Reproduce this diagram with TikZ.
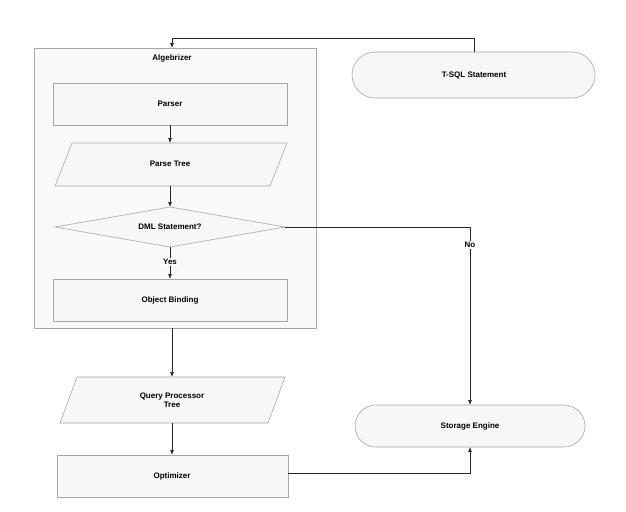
\documentclass[tikz,border=0pt]{standalone}
\usepackage{fontspec}
\setmainfont{Liberation Sans}
\usetikzlibrary{arrows.meta,shapes.geometric}
\begin{document}
\begin{tikzpicture}[x=1pt,y=-1pt,
 box/.style={draw=gray!70,fill=gray!6,line width=0.6pt},
 lbl/.style={font=\bfseries\fontsize{8}{9.5}\selectfont,align=center},
 arr/.style={-{Latex[length=5pt,width=4pt]},line width=0.7pt,black!85}]
\path[use as bounding box] (0,0) rectangle (626,511);
\fill[white] (0,0) rectangle (626,511);
\draw[box,fill=gray!5] (34,48) rectangle (316,328);
\node[lbl] (alg) at (172,58) {Algebrizer};
\coordinate (algtop) at (172,48);
\coordinate (algbot) at (172,328);
\draw[box] (53,83) rectangle (287,125);
\node[lbl] (parser) at (170,104) {Parser};
\coordinate (parserbot) at (170,125);
\draw[box] (72,143) -- (287,143) -- (270,186) -- (55,186) -- cycle;
\node[lbl] (ptree) at (170,164) {Parse Tree};
\coordinate (ptreetop) at (170,143);
\coordinate (ptreebot) at (170,186);
\draw[box] (55,227) -- (170,207) -- (285,227) -- (170,247) -- cycle;
\node[lbl] (dml) at (170,227) {DML Statement?};
\coordinate (dmltop) at (170,207);
\coordinate (dmlbot) at (170,247);
\coordinate (dmlright) at (285,227);
\node[lbl,fill=white,inner sep=1pt] (yes) at (170,262) {Yes};
\draw[box] (53,279) rectangle (287,321);
\node[lbl] (ob) at (170,300) {Object Binding};
\coordinate (obtop) at (170,279);
\draw[box] (77,377) -- (285,377) -- (268,423) -- (60,423) -- cycle;
\node[lbl] (qpt) at (172,400) {Query Processor\\Tree};
\coordinate (qpttop) at (172,377);
\coordinate (qptbot) at (172,423);
\draw[box] (57,455) rectangle (288,497);
\node[lbl] (opt) at (172,476) {Optimizer};
\coordinate (opttop) at (172,455);
\coordinate (optright) at (288,473);
\draw[box,rounded corners=23pt] (352,52) rectangle (595,98);
\node[lbl] (tsql) at (474,75) {T-SQL Statement};
\coordinate (tsqltop) at (474,52);
\draw[box,rounded corners=21pt] (355,405) rectangle (585,447);
\node[lbl] (se) at (470,426) {Storage Engine};
\coordinate (setop) at (470,405);
\coordinate (sebot) at (470,447);
\draw[arr] (tsqltop) |- (172,38) -- (algtop);
\draw[arr] (parserbot) -- (ptreetop);
\draw[arr] (ptreebot) -- (dmltop);
\draw[arr] (dmlbot) -- (yes) -- (obtop);
\draw[arr] (algbot) -- (qpttop);
\draw[arr] (qptbot) -- (opttop);
\draw[arr] (optright) -| (sebot);
\draw[arr] (dmlright) -| (setop);
\node[lbl,fill=white,inner sep=1pt] (no) at (470,245) {No};
\end{tikzpicture}
\end{document}
